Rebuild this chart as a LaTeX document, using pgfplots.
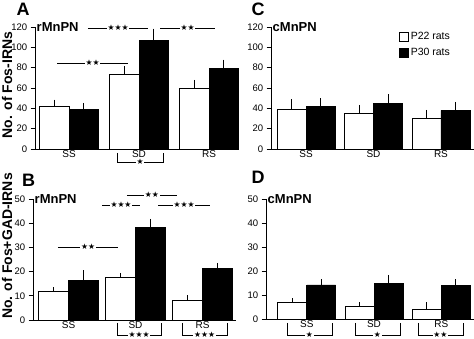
\documentclass[border=0pt]{standalone}
\usepackage{fontspec}
\setmainfont{Liberation Sans}
\newfontfamily\dejavu{DejaVu Sans}
\usepackage{pgfplots}
\pgfplotsset{compat=1.18}

\newcommand\st[1]{{\dejavu\fontsize{7.8}{8}\selectfont #1}}
\tikzset{
  starnode/.style={fill=white, inner sep=0.6pt, text height=5.1pt, text depth=0pt},
  ptitle/.style={anchor=west, inner sep=0pt, font=\bfseries\fontsize{13}{15}\selectfont},
}
\newcommand\sigline[4]{\draw[line width=0.5pt] (axis cs:#1,#3) -- (axis cs:#2,#3) node[midway, starnode] {\st{#4}};}
\newcommand\bracket[5]{\draw[line width=0.5pt] ([yshift=-#3]axis cs:#1,0) -- ([yshift=-#4]axis cs:#1,0) -- ([yshift=-#4]axis cs:#2,0) node[midway, starnode] {\st{#5}} -- ([yshift=-#3]axis cs:#2,0);}

\pgfplotsset{
  panel/.style={
    scale only axis,
    axis x line*=bottom, axis y line*=left,
    axis line style={line width=0.8pt, black},
    ymin=0, clip=false,
    xtick=\empty,
    extra x ticks={0,1,2}, extra x tick labels={SS,SD,RS},
    extra x tick style={major tick length=0pt},
    tick style={line width=0.6pt, black},
    ytick align=outside,
    yticklabel style={font=\fontsize{9.5}{10}\selectfont},
    xticklabel style={font=\fontsize{10}{11}\selectfont, yshift=2pt},
  },
  errs/.style={
    error bars/y dir=plus, error bars/y explicit,
    error bars/error bar style={line width=0.6pt, black},
    error bars/error mark options={line width=0.6pt, black, mark size=2pt},
  },
  wbar/.style={ybar, bar shift=0pt, fill=white, draw=black, line width=0.8pt, errs,
    legend image code/.code={\draw[fill=white, draw=black, line width=0.6pt] (0pt,-4.5pt) rectangle (9pt,4.5pt);}},
  bbar/.style={ybar, bar shift=0pt, fill=black, draw=black, line width=0.8pt, errs,
    legend image code/.code={\draw[fill=black, draw=black, line width=0.6pt] (0pt,-4.5pt) rectangle (9pt,4.5pt);}},
}

\begin{document}
\begin{tikzpicture}
\useasboundingbox (0,0) rectangle (474pt,339pt);

% Panel A
\begin{axis}[panel, at={(35pt,190pt)}, anchor=south west,
  width=203pt, height=122pt, xmin=-0.486, xmax=2.414, ymax=120,
  ytick={0,20,40,60,80,100,120}, yticklabels={0,20,40,60,80,100,120}, bar width=0.42]
\addplot[wbar] coordinates {(-0.21,42) +- (0,4.7) (0.79,73) +- (0,6.5) (1.79,60) +- (0,6)};
\addplot[bbar] coordinates {(0.21,38.7) +- (0,4.6) (1.21,106.5) +- (0,10) (2.21,79) +- (0,7)};
\node[ptitle] at ([xshift=1.5pt]rel axis cs:0,1) {rMnPN};
\sigline{-0.171}{0.843}{84.6}{★★}
\sigline{0.271}{1.129}{119}{★★★}
\sigline{1.3}{2.086}{119}{★★}
\bracket{0.686}{1.343}{4pt}{13pt}{★}
\end{axis}

% Panel B
\begin{axis}[panel, at={(33pt,19pt)}, anchor=south west,
  width=203pt, height=121pt, xmin=-0.53, xmax=2.5, ymax=50,
  ytick={0,10,20,30,40,50}, yticklabels={0,10,20,30,40,50}, bar width=0.45]
\addplot[wbar] coordinates {(-0.225,11.7) +- (0,1.1) (0.775,17.5) +- (0,1.1) (1.775,8.1) +- (0,1.3)};
\addplot[bbar] coordinates {(0.225,16.5) +- (0,3.2) (1.225,38.3) +- (0,2.7) (2.225,21.3) +- (0,1.5)};
\node[ptitle] at ([xshift=1.5pt]rel axis cs:0,1) {rMnPN};
\sigline{-0.157}{0.739}{30.2}{★★}
\sigline{0.5}{1.067}{47.5}{★★★}
\sigline{0.873}{1.619}{51.7}{★★}
\sigline{1.336}{2.112}{47.5}{★★★}
\bracket{0.724}{1.381}{3pt}{15pt}{★★★}
\bracket{1.694}{2.366}{3pt}{15pt}{★★★}
\end{axis}

% Panel C
\begin{axis}[panel, at={(271pt,190pt)}, anchor=south west,
  width=203pt, height=122pt, xmin=-0.52, xmax=2.49, ymax=120,
  ytick={0,20,40,60,80,100,120}, yticklabels={0,20,40,60,80,100,120}, bar width=0.43,
  legend style={draw=none, fill=none, at={(axis cs:1.378,117)}, anchor=north west,
    font=\fontsize{10.5}{12}\selectfont, inner sep=0pt, row sep=3pt},
  legend cell align=left]
\addplot[wbar] coordinates {(-0.215,39.3) +- (0,7.5) (0.785,35.4) +- (0,6) (1.785,30.2) +- (0,6.2)};
\addlegendentry{P22 rats}
\addplot[bbar] coordinates {(0.215,42) +- (0,6) (1.215,45.2) +- (0,6.5) (2.215,38) +- (0,6.3)};
\addlegendentry{P30 rats}
\node[ptitle] at ([xshift=1.5pt]rel axis cs:0,1) {cMnPN};
\end{axis}

% Panel D
\begin{axis}[panel, at={(266pt,20pt)}, anchor=south west,
  width=208pt, height=120pt, xmin=-0.606, xmax=2.487, ymax=50,
  ytick={0,10,20,30,40,50}, yticklabels={0,10,20,30,40,50}, bar width=0.43]
\addplot[wbar] coordinates {(-0.215,6.8) +- (0,1.1) (0.785,5.1) +- (0,1.0) (1.785,4.0) +- (0,2.1)};
\addplot[bbar] coordinates {(0.215,14.2) +- (0,1.6) (1.215,14.9) +- (0,2.7) (2.215,13.9) +- (0,1.9)};
\node[ptitle] at ([xshift=1.5pt]rel axis cs:0,1) {cMnPN};
\bracket{-0.294}{0.375}{4pt}{16pt}{★}
\bracket{0.717}{1.386}{4pt}{16pt}{★}
\bracket{1.654}{2.323}{4pt}{16pt}{★★}
\end{axis}

% y labels and panel letters
\node[rotate=90, font=\bfseries\fontsize{14}{16}\selectfont] at (7pt,254pt) {No. of Fos-IRNs};
\node[rotate=90, font=\bfseries\fontsize{14}{16}\selectfont] at (7pt,93pt) {No. of Fos+GAD-IRNs};
\node[font=\bfseries\fontsize{18}{20}\selectfont] at (23pt,330pt) {A};
\node[font=\bfseries\fontsize{18}{20}\selectfont] at (28.5pt,159pt) {B};
\node[font=\bfseries\fontsize{18}{20}\selectfont] at (258pt,330pt) {C};
\node[font=\bfseries\fontsize{18}{20}\selectfont] at (258pt,162pt) {D};
\end{tikzpicture}
\end{document}
